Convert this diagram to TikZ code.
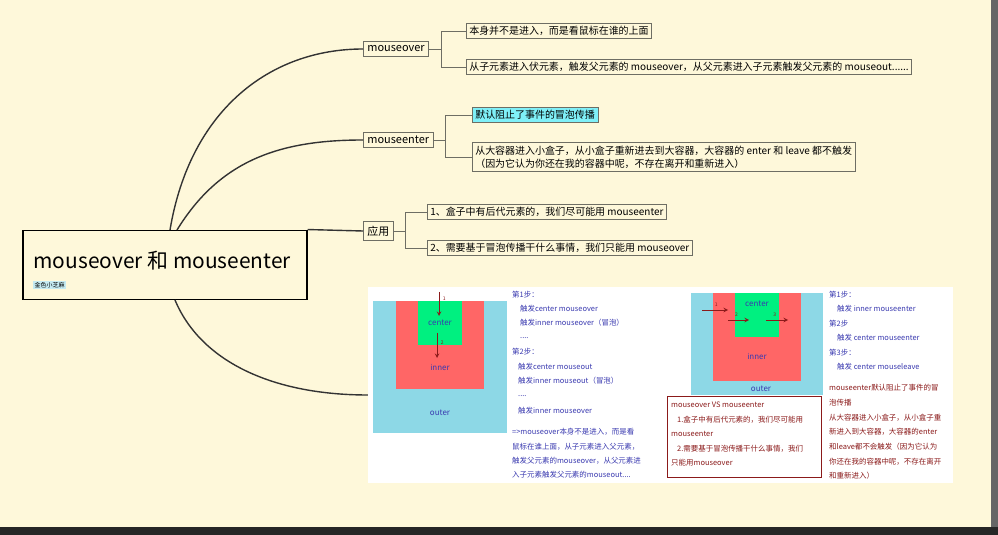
\documentclass[tikz,border=0pt]{standalone}
\usepackage{fontspec}
\setmainfont{Noto Sans CJK SC}
\usetikzlibrary{positioning}
\definecolor{paper}{HTML}{FEF8DA}
\definecolor{lineg}{HTML}{6E6E64}
\definecolor{skyb}{HTML}{8DD8E6}
\definecolor{redb}{HTML}{FF6666}
\definecolor{greenb}{HTML}{00F080}
\definecolor{inkb}{HTML}{3A3AB0}
\definecolor{inkr}{HTML}{8B1A1A}
\definecolor{hilite}{HTML}{7FF0F8}
\newcommand\fourdots{.{}.{}.{}.}
\tikzset{
  topic/.style={draw=lineg, line width=.8, fill=paper, inner sep=4, font=\fontsize{11}{13}\selectfont, anchor=west},
  leaf/.style={draw=lineg, line width=.6, fill=paper, inner sep=3, font=\fontsize{10}{13}\selectfont, anchor=west, align=left},
  branch/.style={line width=1.4, black!80},
  twig/.style={line width=.6, lineg},
  note/.style={anchor=west, inner sep=0, font=\fontsize{7.5}{9}\selectfont},
  mousemove/.style={->, >=stealth, line width=1, inkr}
}
\begin{document}
\begin{tikzpicture}[x=1bp, y=-1bp]
  \useasboundingbox (0,0) rectangle (998,535);
  \fill[paper] (0,0) rectangle (998,535);
  \fill[black!85] (0,527) rectangle (998,535);
  \fill[black!60] (991,0) rectangle (998,527);

  % root
  \node[draw=black, line width=1.2, fill=paper, minimum width=285, minimum height=70] (root) at (165,265) {};
  \node[font=\fontsize{21}{24}\selectfont, anchor=west] (title) at (30,261) {mouseover 和 mouseenter};
  \node[fill=skyb!50, font=\fontsize{6}{7}\selectfont, inner sep=1.5, anchor=west] (tag) at (33,285) {金色小芝麻};

  % topics
  \node[topic] (over) at (363,49) {mouseover};
  \node[topic] (enter) at (363,140) {mouseenter};
  \node[topic] (use) at (363,231) {应用};

  \draw[branch] (170,230) .. controls (190,110) and (270,49) .. (over.west);
  \draw[branch] (177,230) .. controls (220,160) and (280,140) .. (enter.west);
  \draw[branch] (root.north east) -- (use.west);
  \draw[branch] (175,300) .. controls (200,360) and (270,395) .. (368,395);

  % leaves
  \node[leaf] (over1) at (466,31) {本身并不是进入，而是看鼠标在谁的上面};
  \node[leaf] (over2) at (466,67) {从子元素进入伏元素，触发父元素的 mouseover，从父元素进入子元素触发父元素的 mouseout......};
  \node[leaf, fill=hilite] (enter1) at (472,115) {默认阻止了事件的冒泡传播};
  \node[leaf] (enter2) at (472,157) {从大容器进入小盒子，从小盒子重新进去到大容器，大容器的 enter 和 leave 都不触发\\（因为它认为你还在我的容器中呢，不存在离开和重新进入）};
  \node[leaf] (use1) at (427,212) {1、盒子中有后代元素的，我们尽可能用 mouseenter};
  \node[leaf] (use2) at (427,248) {2、需要基于冒泡传播干什么事情，我们只能用 mouseover};

  \foreach \p/\c in {over/over1, over/over2, enter/enter1, enter/enter2, use/use1, use/use2}
    \draw[twig] (\p.east) -- ++(12,0) |- (\c.west);

  % screenshot
  \fill[white] (368,287) rectangle (953,483);
  \fill[skyb] (373,301) rectangle (507,433);
  \fill[redb] (396,301) rectangle (484,389);
  \fill[greenb] (418,301) rectangle (462,345);
  \node[font=\fontsize{8}{9}\selectfont, text=inkb] (lc) at (440,323) {center};
  \node[font=\fontsize{8}{9}\selectfont, text=inkb] (li) at (440,367) {inner};
  \node[font=\fontsize{8}{9}\selectfont, text=inkb] (lo) at (440,413) {outer};
  \coordinate (a1) at (439,292); \coordinate (b1) at (439,316);
  \coordinate (a2) at (437,333); \coordinate (b2) at (437,358);
  \draw[mousemove] (a1) -- (b1) node[pos=.3, right, font=\tiny] {1};
  \draw[mousemove] (a2) -- (b2) node[pos=.4, right, font=\tiny] {2};

  \foreach \t/\x/\y in {第1步：/512/295, 触发center mouseover/520/309, 触发inner mouseover（冒泡）/520/323, \fourdots/520/338,
      第2步：/512/352, 触发center mouseout/518/367, 触发inner mouseout（冒泡）/518/381, \fourdots/518/396, 触发inner mouseover/518/411,
      =>mouseover本身不是进入，而是看/512/432, 鼠标在谁上面，从子元素进入父元素，/512/447,
      触发父元素的mouseover，从父元素进/512/461, 入子元素触发父元素的mouseout\fourdots/512/475}
    \node[note, text=inkb] at (\x,\y) {\t};

  \fill[skyb] (691,293) rectangle (823,395);
  \fill[redb] (713,293) rectangle (801,381);
  \fill[greenb] (735,293) rectangle (779,337);
  \node[font=\fontsize{8}{9}\selectfont, text=inkb] (rc) at (757,304) {center};
  \node[font=\fontsize{8}{9}\selectfont, text=inkb] (ri) at (757,356) {inner};
  \node[font=\fontsize{8}{9}\selectfont, text=inkb] (ro) at (761,389) {outer};
  \coordinate (c1) at (702,310); \coordinate (d1) at (728,310);
  \coordinate (c2) at (728,320); \coordinate (d2) at (749,320);
  \coordinate (c3) at (766,320); \coordinate (d3) at (788,320);
  \draw[mousemove] (c1) -- (d1) node[pos=.55, above, font=\tiny] {1};
  \draw[mousemove] (c2) -- (d2) node[pos=.4, above, font=\tiny] {2};
  \draw[mousemove] (c3) -- (d3) node[pos=.4, above, font=\tiny] {3};

  \node[draw=inkr, fill=white, line width=.6, minimum width=155, minimum height=81, anchor=north west] (vs) at (667,396) {};
  \foreach \t/\x/\y in {mouseover VS mouseenter/671/405, 1.盒子中有后代元素的，我们尽可能用/677/420, mouseenter/671/434,
      2.需要基于冒泡传播干什么事情，我们/677/449, 只能用mouseover/671/463}
    \node[note, text=inkr] at (\x,\y) {\t};

  \foreach \t/\x/\y in {第1步：/829/295, 触发 inner mouseenter/837/309, 第2步/829/324, 触发 center mouseenter/837/338,
      第3步：/829/353, 触发 center mouseleave/837/367}
    \node[note, text=inkb] at (\x,\y) {\t};
  \foreach \t/\y in {mouseenter默认阻止了事件的冒/388, 泡传播/403, 从大容器进入小盒子，从小盒子重/418,
      新进入到大容器，大容器的enter/432, 和leave都不会触发（因为它认为/447, 你还在我的容器中呢，不存在离开/462, 和重新进入）/476}
    \node[note, text=inkr] at (829,\y) {\t};
\end{tikzpicture}
\end{document}
